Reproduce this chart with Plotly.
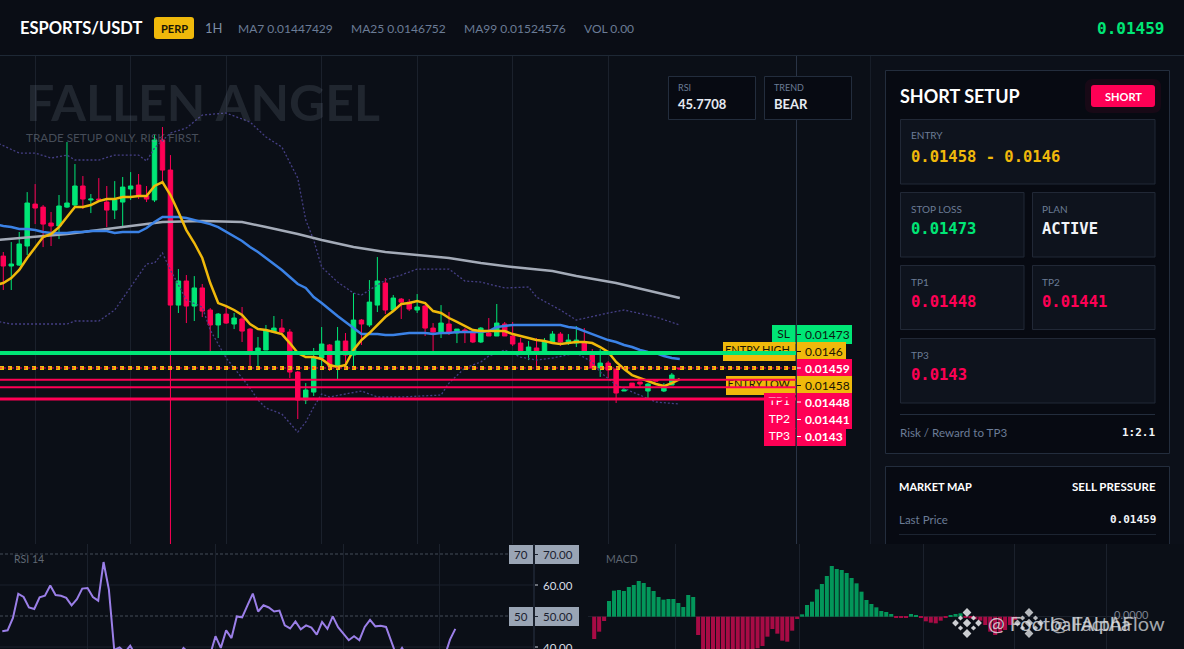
import plotly.graph_objects as go

W, H = 1184, 649

COLOR_BG = '#0b0f17'
COLOR_HEADER = '#0a0d15'
COLOR_SIDE = '#0c1019'
COLOR_PANEL = '#070a12'
COLOR_CARD = '#0e131d'
COLOR_BORDER = '#232d3d'
COLOR_GRID = '#1b212c'
GREEN = '#00e676'
RED = '#ff0055'
YELLOW = '#f0b90b'
MUTED = '#6b7c96'
FONT = 'Lato'
MONO = 'DejaVu Sans Mono'

# candles, price in 1e-5 units
OPEN = [1563.6, 1554.3, 1555.2, 1573.0, 1612.2, 1609.4, 1594.5, 1591.7, 1609.4, 1611.3,
        1629.1, 1616.0, 1616.9, 1614.1, 1606.6, 1614.1, 1626.3, 1630.0, 1619.7, 1616.0,
        1672.1, 1644.0, 1517.8, 1540.3, 1516.9, 1533.8, 1513.2, 1499.2, 1509.4, 1500.1,
        1504.8, 1495.4, 1472.1, 1475.8, 1492.6, 1496.3, 1492.6, 1455.2, 1429.1, 1436.5,
        1468.3, 1480.5, 1460.8, 1484.2, 1471.1, 1503.8, 1499.2, 1517.8, 1538.4, 1513.2,
        1523.4, 1520.6, 1513.2, 1516.9, 1496.3, 1492.6, 1500.1, 1491.7, 1494.5, 1491.7,
        1483.3, 1491.7, 1488.9, 1500.1, 1488.9, 1482.3, 1474.9, 1477.7, 1473.9, 1483.3,
        1490.7, 1482.3, 1482.3, 1483.3, 1473.0, 1459.0, 1463.6, 1458.0, 1437.5, 1444.9,
        1445.9, 1437.5, 1447.8, 1437.5, 1443.1, 1459.0]
HIGH = [1567.4, 1576.7, 1586.1, 1623.4, 1630.9, 1611.3, 1604.8, 1620.7, 1670.2, 1649.6,
        1638.4, 1621.6, 1636.5, 1629.1, 1633.7, 1637.5, 1642.1, 1640.3, 1629.1, 1676.7,
        1684.2, 1658.0, 1551.5, 1545.9, 1544.9, 1537.5, 1515.0, 1510.4, 1516.0, 1510.4,
        1516.0, 1496.3, 1488.0, 1499.2, 1507.6, 1504.8, 1495.4, 1456.2, 1444.9, 1477.7,
        1497.3, 1481.4, 1497.3, 1491.7, 1529.1, 1504.8, 1541.2, 1562.7, 1543.1, 1527.2,
        1524.4, 1523.4, 1528.1, 1517.8, 1501.0, 1517.8, 1511.3, 1495.4, 1496.3, 1494.5,
        1497.3, 1505.7, 1518.8, 1502.0, 1502.0, 1487.0, 1484.2, 1487.0, 1487.0, 1493.5,
        1492.6, 1490.7, 1498.2, 1496.3, 1476.7, 1476.7, 1465.5, 1458.0, 1438.4, 1444.9,
        1445.9, 1444.9, 1447.8, 1444.9, 1454.3, 1459.0]
LOW = [1531.9, 1531.9, 1554.3, 1564.6, 1593.5, 1572.0, 1573.0, 1579.5, 1608.5, 1610.4,
       1607.6, 1603.8, 1616.0, 1590.7, 1598.2, 1590.7, 1616.0, 1616.9, 1614.1, 1614.1,
       1632.8, 1279.5, 1510.4, 1501.0, 1502.9, 1506.6, 1472.1, 1487.0, 1500.1, 1495.4,
       1483.3, 1459.9, 1459.0, 1475.8, 1492.6, 1491.7, 1449.6, 1411.3, 1425.3, 1432.8,
       1460.8, 1456.2, 1448.7, 1459.9, 1460.8, 1480.5, 1497.3, 1511.3, 1509.4, 1513.2,
       1504.8, 1512.2, 1510.4, 1488.9, 1473.0, 1487.0, 1489.8, 1482.3, 1482.3, 1482.3,
       1482.3, 1488.9, 1488.9, 1488.9, 1479.5, 1474.9, 1466.4, 1458.0, 1473.9, 1483.3,
       1479.5, 1480.5, 1478.6, 1473.0, 1457.1, 1450.6, 1449.6, 1426.3, 1437.5, 1441.2,
       1441.2, 1429.1, 1446.8, 1436.5, 1443.1, 1458.0]
CLOSE = [1554.3, 1556.2, 1574.9, 1613.2, 1608.5, 1593.5, 1591.7, 1610.4, 1613.2, 1629.1,
         1616.9, 1616.9, 1616.0, 1606.6, 1616.0, 1628.1, 1629.1, 1620.7, 1616.9, 1672.1,
         1644.0, 1517.8, 1540.3, 1516.9, 1533.8, 1512.2, 1499.2, 1509.4, 1501.0, 1505.7,
         1493.5, 1473.0, 1477.7, 1494.5, 1496.3, 1492.6, 1455.2, 1429.1, 1438.4, 1468.3,
         1481.4, 1460.8, 1484.2, 1471.1, 1503.8, 1500.1, 1520.6, 1540.3, 1513.2, 1524.4,
         1520.6, 1514.1, 1516.0, 1496.3, 1492.6, 1501.0, 1492.6, 1495.4, 1492.6, 1483.3,
         1496.3, 1488.9, 1501.0, 1488.9, 1481.4, 1474.9, 1478.6, 1473.9, 1483.3, 1490.7,
         1483.3, 1485.1, 1485.1, 1473.0, 1459.0, 1463.6, 1457.1, 1435.6, 1438.4, 1441.2,
         1444.0, 1444.0, 1446.8, 1442.1, 1452.4, 1458.0]

MA7 = [1536.5, 1538.4, 1543.1, 1550.6, 1561.8, 1572.0, 1581.4, 1584.2, 1590.7, 1600.1,
       1609.4, 1609.4, 1611.3, 1615.0, 1616.9, 1616.9, 1618.8, 1618.8, 1619.7, 1619.7,
       1629.1, 1632.8, 1620.7, 1604.8, 1587.9, 1575.8, 1561.8, 1538.4, 1519.7, 1516.9,
       1513.2, 1508.5, 1500.1, 1495.4, 1494.5, 1492.6, 1490.7, 1482.3, 1473.0, 1469.2,
       1469.2, 1467.4, 1461.8, 1459.9, 1461.8, 1475.8, 1485.1, 1491.7, 1499.2, 1506.6,
       1512.2, 1518.8, 1519.7, 1521.6, 1519.7, 1512.2, 1510.4, 1505.7, 1502.0, 1498.2,
       1494.5, 1493.5, 1493.5, 1493.5, 1493.5, 1490.7, 1488.9, 1487.0, 1485.1, 1484.2,
       1482.3, 1481.4, 1482.3, 1483.3, 1483.3, 1482.3, 1478.6, 1473.9, 1464.6, 1458.0,
       1452.4, 1449.6, 1446.8, 1444.0, 1442.1, 1444.9, 1448.7]
MA25 = [1593.5, 1591.7, 1590.7, 1588.9, 1588.9, 1587.9, 1586.1, 1585.1, 1585.1, 1585.1,
        1586.1, 1586.1, 1587.0, 1587.0, 1587.0, 1585.1, 1586.1, 1586.1, 1586.1, 1589.8,
        1595.4, 1600.1, 1600.1, 1600.1, 1599.2, 1597.3, 1595.4, 1593.5, 1590.7, 1586.1,
        1582.3, 1577.7, 1572.0, 1567.4, 1561.8, 1556.2, 1550.6, 1544.0, 1537.5, 1533.8,
        1525.3, 1519.7, 1513.2, 1507.6, 1502.0, 1496.3, 1490.7, 1490.7, 1490.7, 1489.8,
        1489.8, 1490.7, 1491.7, 1491.7, 1491.7, 1490.7, 1491.7, 1491.7, 1492.6, 1492.6,
        1492.6, 1492.6, 1493.5, 1497.3, 1498.2, 1499.2, 1499.2, 1499.2, 1499.2, 1499.2,
        1499.2, 1499.2, 1497.3, 1496.3, 1493.5, 1490.7, 1488.0, 1485.1, 1483.3, 1480.5,
        1478.6, 1475.8, 1473.9, 1473.0, 1470.2, 1468.3, 1467.4]
MA_X = list(range(-1, 86))

MA99_X = [-1, 4, 8, 12, 16, 20, 25, 30, 33, 37, 40, 44, 48, 52, 56, 60, 64, 69, 72, 77, 85]
MA99 = [1578.6, 1581.4, 1584.2, 1587.9, 1591.7, 1595.4, 1596.3, 1595.4, 1590.7, 1584.2, 1578.6,
        1572.0, 1567.4, 1564.6, 1561.8, 1557.1, 1553.4, 1549.6, 1544.9, 1538.4, 1524.4]

BB_UP_X = [-1, 2, 4, 6, 8, 9, 12, 14, 17, 18, 19, 21, 23, 25, 28, 31, 33, 35, 37, 38, 39, 40, 42,
           44, 45, 46, 48, 50, 52, 56, 58, 60, 63, 66, 67, 70, 72, 76, 78, 82, 85]
BB_UP = [1670.2, 1659.9, 1659.9, 1655.2, 1658.0, 1653.4, 1653.4, 1658.0, 1658.0, 1652.4, 1664.6,
         1678.6, 1683.3, 1695.4, 1697.3, 1688.9, 1674.9, 1665.5, 1636.5, 1597.3, 1578.6, 1553.4,
         1539.3, 1529.1, 1527.2, 1531.9, 1541.2, 1545.9, 1551.5, 1551.5, 1540.3, 1539.3, 1533.8,
         1534.7, 1525.3, 1513.2, 1503.8, 1510.4, 1513.2, 1506.6, 1499.2]
BB_LOW_X = [-1, 1, 8, 9, 12, 14, 16, 18, 19, 20, 21, 23, 25, 26, 28, 31, 32, 33, 35, 37, 38, 39,
            40, 41, 43, 45, 47, 50, 55, 56, 58, 60, 61, 63, 65, 67, 69, 71, 72, 74, 75, 77, 80, 82, 85]
BB_LOW = [1502.9, 1500.1, 1500.1, 1502.9, 1502.9, 1513.2, 1534.7, 1556.2, 1557.1, 1566.4, 1550.6,
          1522.5, 1516.0, 1494.5, 1468.3, 1440.3, 1429.1, 1421.6, 1416.0, 1399.1, 1408.5, 1422.5,
          1434.7, 1431.9, 1434.7, 1437.5, 1431.9, 1431.9, 1433.7, 1444.9, 1459.0, 1464.6, 1470.2,
          1475.8, 1469.2, 1466.4, 1468.3, 1471.1, 1473.0, 1464.6, 1455.2, 1443.1, 1433.7, 1427.2,
          1425.3]

GRID_MAIN = [4, 16, 28, 40, 52, 64, 76]

RSI = [45.0, 45.3, 49.3, 57.1, 56.1, 52.7, 52.2, 56.0, 56.5, 59.8, 56.7, 56.5, 55.8, 53.4, 55.4,
       58.8, 59.0, 56.1, 54.9, 67.4, 58.5, 39.0, 39.8, 38.2, 40.3, 37.4, 36.0, 35.0, 37.0, 36.0,
       34.0, 33.0, 35.0, 37.0, 39.6, 38.0, 35.0, 33.0, 35.0, 37.4, 43.4, 39.6, 45.3, 42.8, 49.8,
       49.5, 53.4, 57.2, 51.4, 53.4, 52.7, 51.4, 51.7, 46.9, 45.9, 48.2, 45.6, 46.9, 46.2, 43.9,
       48.0, 45.8, 49.8, 46.3, 44.2, 42.1, 43.4, 42.1, 46.4, 48.7, 46.6, 46.8, 46.4, 41.7, 36.9,
       39.6, 37.0, 34.0, 33.0, 35.0, 36.0, 37.0, 35.0, 36.9, 42.3, 45.77]
GRID_RSI = [16, 40, 64, 82]

# MACD histogram in 1e-6 units
MACD_HIST = [-67, -45, -13, 47, 78, 80, 77, 89, 95, 107, 101, 89, 77, 59, 51, 53, 53, 41, 29, 65,
             59, -55, -105, -110, -115, -118, -120, -118, -115, -112, -105, -100, -100, -95, -88,
             -60, -37, -51, -72, -75, -42, -7, 7, 35, 45, 82, 98, 122, 152, 143, 140, 131, 116,
             100, 75, 50, 38, 28, 17, 14, 8, -3, -3, -3, 8, 5, -3, -14, -18, -20, -12, -2, 4, 8,
             10, -3, -5, -8, -12, -25, -45, -55, -48, -40, -25, -10]
GRID_MACD = [16.5, 41.5, 66.5, 85, 103.5]

SL, ENTRY_HIGH, ENTRY_LOW, LAST = 0.01473, 0.0146, 0.01458, 0.01459
TP1, TP2, TP3 = 0.01448, 0.01441, 0.0143

# pixel helpers for the page furniture
def px(x):
    return x / W


def py(y):
    return 1 - y / H


MAIN_Y_RANGE = [0.012945, 0.017506]
MAIN_X_RANGE = [-0.415, 99.6]


def idx_at(x):
    return MAIN_X_RANGE[0] + x / 796 * (MAIN_X_RANGE[1] - MAIN_X_RANGE[0])


def price_at(y):
    return MAIN_Y_RANGE[1] - (y - 56) / 488 * (MAIN_Y_RANGE[1] - MAIN_Y_RANGE[0])


def e5(values):
    return [v / 100000 for v in values]


shapes = []
annotations = []


def box(x0, y0, x1, y1, fill, line=None, layer='below', lw=1):
    shapes.append(dict(type='rect', xref='paper', yref='paper', x0=px(x0), x1=px(x1), y0=py(y0), y1=py(y1),
                       fillcolor=fill, line=dict(color=line or fill, width=lw if line else 0), layer=layer))


def hline(x0, x1, y, color, layer='below', width=1, dash='solid'):
    shapes.append(dict(type='line', xref='paper', yref='paper', x0=px(x0), x1=px(x1), y0=py(y), y1=py(y),
                       line=dict(color=color, width=width, dash=dash), layer=layer))


def vline(x, y0, y1, color, layer='below', width=1):
    shapes.append(dict(type='line', xref='paper', yref='paper', x0=px(x), x1=px(x), y0=py(y0), y1=py(y1),
                       line=dict(color=color, width=width), layer=layer))


def round_box(x0, y0, x1, y1, r, fill, layer='above'):
    path = (f'M {px(x0 + r)} {py(y0)} L {px(x1 - r)} {py(y0)} Q {px(x1)} {py(y0)} {px(x1)} {py(y0 + r)} '
            f'L {px(x1)} {py(y1 - r)} Q {px(x1)} {py(y1)} {px(x1 - r)} {py(y1)} '
            f'L {px(x0 + r)} {py(y1)} Q {px(x0)} {py(y1)} {px(x0)} {py(y1 - r)} '
            f'L {px(x0)} {py(y0 + r)} Q {px(x0)} {py(y0)} {px(x0 + r)} {py(y0)} Z')
    shapes.append(dict(type='path', xref='paper', yref='paper', path=path, fillcolor=fill,
                       line=dict(width=0), layer=layer))


def note(x, y, text, size, color, font=FONT, anchor='left', bold=False):
    # annotations sit about 1px inside their anchor
    x = x - 1 if anchor == 'left' else x + 1 if anchor == 'right' else x
    annotations.append(dict(xref='paper', yref='paper', x=px(x), y=py(y), text=f'<b>{text}</b>' if bold else text,
                            showarrow=False, xanchor=anchor, yanchor='middle', align=anchor,
                            borderpad=0, font=dict(family=font, size=size, color=color)))


def binance_logo(cx, cy, color):
    for dx, dy, r in [(0, 0, 4.2), (-11.5, 0, 3.4), (11.5, 0, 3.4), (0, -10.5, 4.4), (0, 10.5, 4.4), (-6.5, -5, 2.6),
                      (6.5, -5, 2.6), (-6.5, 5, 2.6), (6.5, 5, 2.6)]:
        path = (f'M {px(cx + dx)} {py(cy + dy - r)} L {px(cx + dx + r)} {py(cy + dy)} '
                f'L {px(cx + dx)} {py(cy + dy + r)} L {px(cx + dx - r)} {py(cy + dy)} Z')
        shapes.append(dict(type='path', xref='paper', yref='paper', path=path, fillcolor=color,
                           line=dict(width=0), layer='above'))


# header and sidebar
box(0, 0, W, 55, COLOR_HEADER)
hline(0, W, 55.5, '#1e2835')
box(870, 56, W, 544, COLOR_SIDE)
vline(870.5, 56, 544, '#171d28')
box(885.5, 70.5, 1169.5, 453.5, COLOR_PANEL, COLOR_BORDER)
box(885.5, 466.5, 1169.5, 560, COLOR_PANEL, COLOR_BORDER)
for x0, y0, x1, y1 in [(900.5, 119.5, 1155, 184), (900.5, 192.5, 1024, 257), (1032.5, 192.5, 1155, 257),
                       (900.5, 265.5, 1024, 329.5), (1032.5, 265.5, 1155, 329.5), (900.5, 338.5, 1155, 403)]:
    box(x0, y0, x1, y1, COLOR_CARD, '#212836')
hline(900, 1155, 414.5, COLOR_BORDER)
hline(899, 1156, 534.5, '#1c2431')
box(0, 544, W, H, COLOR_BG)

# price axis line and the label boxes that sit under the level lines
vline(796.5, 56, 544, '#2a3446')
box(772, 325, 795.5, 344, GREEN)
box(723, 342, 795.5, 361, YELLOW)
box(726, 376, 795.5, 395, YELLOW)
box(764, 393, 795.5, 410, RED)
box(764, 410, 795.5, 429, RED)
box(764, 428, 795.5, 446, RED)

# price axis tags
for y0, y1, x1, fill in [(325, 344, 852, GREEN), (342, 361, 846, YELLOW), (359, 376, 852, RED), (376, 395, 852, YELLOW),
                         (393, 411, 852, RED), (411, 429, 852, RED), (428, 446, 846, RED)]:
    box(797, y0, x1, y1, fill, layer='above')
for y, text, color in [(334.5, '0.01473', '#0b1a12'), (351.5, '0.0146', '#1a1505'), (368, '0.01459', '#ffffff'),
                       (385.5, '0.01458', '#1a1505'), (402, '0.01448', '#ffffff'), (419.5, '0.01441', '#ffffff'),
                       (436.5, '0.0143', '#ffffff')]:
    hline(797, 801, y, color, layer='above')
    note(805, y, text, 12, color, bold=color == '#ffffff')

# header text
note(20, 28, 'ESPORTS/USDT', 16.5, '#ffffff', bold=True)
round_box(154, 17, 194, 39, 3, YELLOW)
note(174, 28, 'PERP', 11, '#1a1505', anchor='center', bold=True)
note(205, 28, '1H', 13, '#7c8ca3')
note(238, 28, 'MA7 0.01447429', 12, MUTED)
note(351, 28, 'MA25 0.0146752', 12, MUTED)
note(464, 28, 'MA99 0.01524576', 12, MUTED)
note(584, 28, 'VOL 0.00', 12, MUTED)
note(1164, 28, '0.01459', 16, GREEN, font=MONO, anchor='right', bold=True)

# watermark
note(26, 102, 'FALLEN ANGEL', 50, 'rgba(120,130,145,0.2)', bold=True)
note(26, 137, 'TRADE SETUP ONLY. RISK FIRST.', 11.7, 'rgba(130,140,155,0.5)')

# rsi / trend cards
box(668.5, 76.5, 755.5, 119.5, '#070a12', COLOR_BORDER, layer='above')
box(764.5, 76.5, 851.5, 119.5, '#070a12', COLOR_BORDER, layer='above')
note(678, 88, 'RSI', 9, MUTED)
note(678, 104, '45.7708', 13, '#e6ebf2', bold=True)
note(774, 88, 'TREND', 9, MUTED)
note(774, 104, 'BEAR', 13, '#e6ebf2', bold=True)

# setup panel
note(900, 96, 'SHORT SETUP', 18, '#ffffff', bold=True)
round_box(1085, 79, 1161, 113, 8, 'rgba(255,0,85,0.07)')
round_box(1091, 85, 1155, 107, 3, RED)
note(1123, 96, 'SHORT', 11, '#ffffff', anchor='center', bold=True)
for x, y, value_y, label, value, color in [(911, 135, 156.5, 'ENTRY', '0.01458 - 0.0146', YELLOW),
                                           (911, 209, 229, 'STOP LOSS', '0.01473', GREEN),
                                           (1042, 209, 229, 'PLAN', 'ACTIVE', '#f2f5f9'),
                                           (911, 282, 302, 'TP1', '0.01448', RED),
                                           (1042, 282, 302, 'TP2', '0.01441', RED),
                                           (911, 355, 375, 'TP3', '0.0143', RED)]:
    note(x, y, label, 10, MUTED)
    note(x, value_y, value, 15.5, color, font=MONO, bold=True)
note(900, 432, 'Risk / Reward to TP3', 11.6, MUTED)
note(1155, 432, '1:2.1', 11, '#f2f5f9', font=MONO, anchor='right', bold=True)
note(899, 486, 'MARKET MAP', 11, '#ffffff', bold=True)
note(1156, 486, 'SELL PRESSURE', 11.5, '#ffffff', anchor='right', bold=True)
note(899, 519, 'Last Price', 11.5, MUTED)
note(1156, 519, '0.01459', 11, '#f2f5f9', font=MONO, anchor='right', bold=True)

# rsi panel furniture
for v_y in [585, 647]:
    hline(0, 534, v_y, '#1b212c')
for v_y in [554, 616]:
    hline(0, 510, v_y, '#454c58', dash='3px,2px')
vline(534, 544, H, '#2a3446')
for y0, y1, tag, val in [(545, 564, '70', '70.00'), (607, 626, '50', '50.00')]:
    box(509, y0, 533, y1, '#9aa5b5', layer='above')
    box(535, y0, 579, y1, '#9aa5b5', layer='above')
    note(521, (y0 + y1) / 2, tag, 11.5, '#1b2230', anchor='center')
    hline(535, 538, (y0 + y1) / 2, '#1b2230', layer='above')
    note(543, (y0 + y1) / 2, val, 11.5, '#1b2230')
for y, val in [(585, '60.00'), (647, '40.00')]:
    hline(535, 538, y, '#c8ced8', layer='above')
    note(543, y, val, 11.5, '#d8dde4')
note(14, 559, 'RSI 14', 10.5, '#5f6773')
note(606, 559, 'MACD', 10.5, '#5f6773')
hline(588, 1135, 616.5, '#1b212c')
note(1131, 614, '0.0000', 11, '#7b8290', anchor='center')

# two overlapping platform watermarks
binance_logo(967, 623, 'rgba(225,227,231,0.9)')
binance_logo(1029, 623, 'rgba(225,227,231,0.8)')
note(988, 623, '@ FootballAlpha', 20, 'rgba(225,227,231,0.82)')
note(1050, 623, '@ FactAFlow', 20, 'rgba(225,227,231,0.72)')

fig = go.Figure()

fig.add_trace(go.Candlestick(x=list(range(len(OPEN))), open=e5(OPEN), high=e5(HIGH), low=e5(LOW), close=e5(CLOSE),
                             increasing=dict(line=dict(color=GREEN, width=1), fillcolor=GREEN),
                             decreasing=dict(line=dict(color=RED, width=1), fillcolor=RED),
                             whiskerwidth=0, xaxis='x', yaxis='y'))

# bollinger bands, then the moving averages
for xs, ys in [(BB_UP_X, BB_UP), (BB_LOW_X, BB_LOW)]:
    fig.add_trace(go.Scatter(x=xs, y=e5(ys), mode='lines', line=dict(color='#453f85', width=1.3, dash='2px,2px')))
fig.add_trace(go.Scatter(x=MA99_X, y=e5(MA99), mode='lines', line=dict(color='#a4abb8', width=2.5)))
fig.add_trace(go.Scatter(x=MA_X, y=e5(MA25), mode='lines', line=dict(color='#3b82e6', width=2.5)))
fig.add_trace(go.Scatter(x=MA_X, y=e5(MA7), mode='lines', line=dict(color=YELLOW, width=2.5)))

# level names go in as trace text so that the level lines cover them
for x, y, text, color, size in [(790, 334.5, 'SL', '#0b1a12', 12), (790, 351.5, 'ENTRY HIGH', '#1a1505', 11),
                                (790, 385.5, 'ENTRY LOW', '#1a1505', 11), (790, 402, 'TP1', '#ffffff', 12),
                                (790, 419.5, 'TP2', '#ffffff', 12), (790, 436.5, 'TP3', '#ffffff', 12)]:
    fig.add_trace(go.Scatter(x=[idx_at(x)], y=[price_at(y)], mode='text', text=[text], textposition='middle left',
                             textfont=dict(family=FONT, size=size, color=color)))

level_x = [MAIN_X_RANGE[0], MAIN_X_RANGE[1]]
fig.add_trace(go.Scatter(x=level_x, y=[SL, SL], mode='lines', line=dict(color=GREEN, width=4)))
for level in [ENTRY_HIGH, ENTRY_LOW]:
    fig.add_trace(go.Scatter(x=level_x, y=[level, level], mode='lines',
                             line=dict(color=YELLOW, width=2, dash='4px,4px')))
fig.add_trace(go.Scatter(x=level_x, y=[LAST, LAST], mode='lines', line=dict(color=RED, width=1, dash='2px,2px')))
for level, width in [(TP1, 2), (TP2, 2), (TP3, 3)]:
    fig.add_trace(go.Scatter(x=level_x, y=[level, level], mode='lines', line=dict(color=RED, width=width)))

fig.add_trace(go.Scatter(x=list(range(len(RSI))), y=RSI, mode='lines', line=dict(color='#9b7fe8', width=2),
                         xaxis='x2', yaxis='y2'))

fig.add_trace(go.Bar(x=list(range(len(MACD_HIST))), y=[v / 1000000 for v in MACD_HIST], width=0.82,
                     marker=dict(color=['#03965a' if v >= 0 else '#a80b45' for v in MACD_HIST], line=dict(width=0)),
                     xaxis='x3', yaxis='y3'))

hidden_y = dict(showgrid=False, zeroline=False, showticklabels=False, ticks='', showline=False)


def grid_x(vals, x_range, domain, anchor):
    return dict(domain=domain, range=x_range, tickvals=vals, showgrid=True, gridcolor=COLOR_GRID, gridwidth=1,
                zeroline=False, showticklabels=False, ticks='', showline=False, anchor=anchor, rangeslider=dict(visible=False))


fig.update_layout(width=W, height=H, margin=dict(l=0, r=0, t=0, b=0), autosize=False, showlegend=False,
                  paper_bgcolor=COLOR_BG, plot_bgcolor='rgba(0,0,0,0)', hovermode=False,
                  boxgap=0.2, boxgroupgap=0.3,
                  xaxis=grid_x(GRID_MAIN, MAIN_X_RANGE, [0, 796 / W], 'y'),
                  yaxis=dict(domain=[py(544), py(56)], range=MAIN_Y_RANGE, anchor='x', **hidden_y),
                  xaxis2=grid_x(GRID_RSI, [-0.43, 99.76], [0, 534 / W], 'y2'),
                  yaxis2=dict(domain=[0, py(544)], range=[39.26, 73.24], anchor='x2', **hidden_y),
                  xaxis3=grid_x(GRID_MACD, [-1.25, 109.25], [588 / W, 1135 / W], 'y3'),
                  yaxis3=dict(domain=[0, py(544)], range=[-0.000097, 0.000218], anchor='x3', **hidden_y),
                  shapes=shapes, annotations=annotations)

# the page has a default body margin, the chart should start at the window corner
fig.write_html("out.html", config={'displayModeBar': False},
               post_script="document.body.style.margin='0';document.body.style.overflow='hidden';")
